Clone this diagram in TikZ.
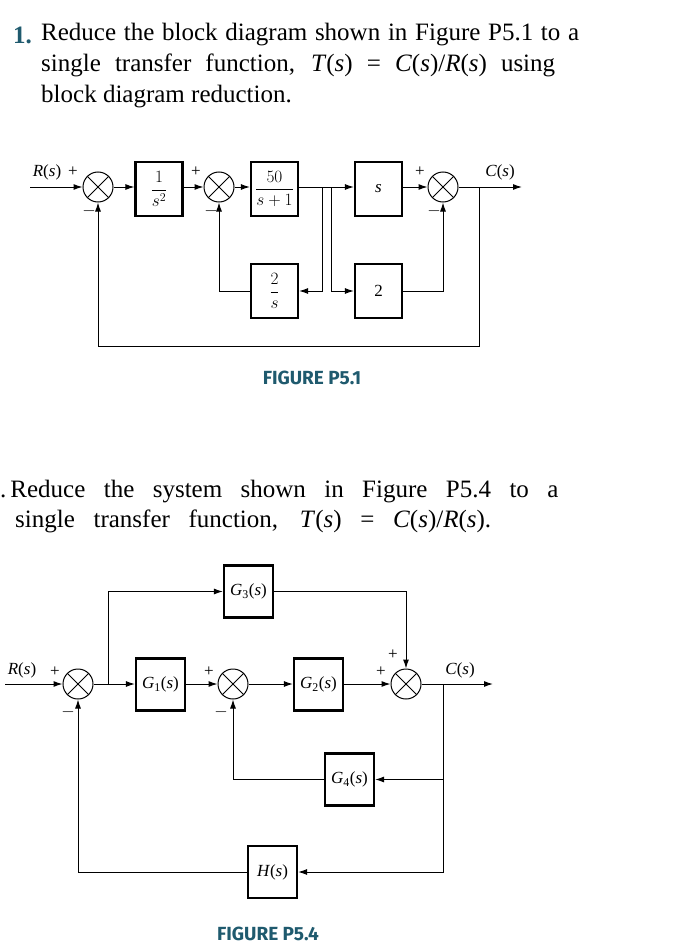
\documentclass[tikz,border=0pt]{standalone}
\usepackage{fontspec}
\setmainfont{Liberation Serif}
\newfontfamily\capfont{Fira Sans}
\usetikzlibrary{arrows.meta}
\definecolor{teal1}{HTML}{1F5A6E}
\newcommand{\mi}[1]{\textit{#1}}
\begin{document}
\begin{tikzpicture}[x=1pt,y=-1pt,
  sumj/.style={circle,draw,line width=1pt,minimum size=30pt,inner sep=0pt,
    path picture={\draw[line width=0.9pt] (path picture bounding box.north west)--(path picture bounding box.south east)
      (path picture bounding box.north east)--(path picture bounding box.south west);}},
  blk/.style={draw,line width=2.2pt,minimum width=47pt,minimum height=54pt,inner sep=0pt,font=\fontsize{17}{18}\selectfont},
  blkb/.style={draw,line width=2.2pt,minimum width=49pt,minimum height=52pt,inner sep=0pt,font=\fontsize{17}{18}\selectfont},
  arr/.style={line width=1pt,-{Latex[length=9pt,width=6pt]}},
  ln/.style={line width=1pt},
  lab/.style={font=\fontsize{17}{18}\selectfont,inner sep=0pt},
  txt/.style={font=\fontsize{25}{28}\selectfont,anchor=west,inner sep=0pt},
  figcap/.style={font=\capfont\bfseries\fontsize{19}{20}\selectfont,text=teal1,inner sep=0pt}]
\useasboundingbox[fill=white] (0,0) rectangle (676,952);
% ---- text 1
\node[txt,text=teal1,font=\bfseries\fontsize{25}{28}\selectfont] (n1) at (13,35) {1.};
\node[txt] (l1) at (41,35) {\makebox[538pt][s]{Reduce the block diagram shown in Figure P5.1 to a}};
\node[txt] (l2) at (41,65) {\makebox[514pt][s]{single transfer function, \mi{T}(\mi{s}) = \mi{C}(\mi{s})/\mi{R}(\mi{s}) using}};
\node[txt] (l3) at (41,97) {block diagram reduction.};
% ---- figure P5.1
\node[sumj] (s1) at (98,187) {};
\node[blk] (b1) at (159,189) {$\displaystyle\frac{1}{s^2}$};
\node[sumj] (s2) at (219,187) {};
\node[blk] (b2) at (274.5,189) {$\displaystyle\frac{50}{s+1}$};
\node[blk] (bs) at (378.5,189) {\mi{s}};
\node[sumj] (s3) at (443,187) {};
\node[blk] (bf) at (274.5,291) {$\displaystyle\frac{2}{s}$};
\node[blk] (bt) at (378.5,291) {2};
\coordinate (rin) at (30,187);
\coordinate (cout) at (522,187);
\coordinate (p1) at (322,187);
\coordinate (p2) at (331,187);
\coordinate (p3) at (479,187);
\draw[arr] (rin) -- (s1.west);
\draw[arr] (s1.east) -- (b1.west |- s1.east);
\draw[arr] (b1.east |- s2.west) -- (s2.west);
\draw[arr] (s2.east) -- (b2.west |- s2.east);
\draw[ln] (b2.east |- p2) -- (p2);
\draw[arr] (p2) -- (bs.west |- p2);
\draw[arr] (p1) |- (bf.east);
\draw[arr] (p2) |- (bt.west);
\draw[arr] (bs.east |- s3.west) -- (s3.west);
\draw[arr] (bt.east) -| (s3.south);
\draw[arr] (bf.west) -| (s2.south);
\draw[arr] (s3.east) -- (cout);
\draw[arr] (p3) -- ++(0,159) -| (s1.south);
\node[lab] (lr1) at (47,172) {\mi{R}(\mi{s})};
\node[lab] (pa1) at (73,172) {+};
\node[lab] (ma1) at (89,211) {$-$};
\node[lab] (pa2) at (196,172) {+};
\node[lab] (ma2) at (211,211) {$-$};
\node[lab] (pa3) at (420,172) {+};
\node[lab] (ma3) at (434,211) {$-$};
\node[lab] (lc1) at (500,172) {\mi{C}(\mi{s})};
\node[figcap] (c1) at (312,378) {FIGURE P5.1};
% ---- text 2
\node[txt] (m1) at (0,492) {.\hspace{4pt}\makebox[548pt][s]{Reduce the system shown in Figure P5.4 to a}};
\node[txt] (m2) at (15,521) {\makebox[476pt][s]{single transfer function, \mi{T}(\mi{s}) = \mi{C}(\mi{s})/\mi{R}(\mi{s}).}};
% ---- figure P5.4
\node[sumj] (t1) at (78,684) {};
\node[blkb] (g1) at (160.5,684.5) {\mi{G}\textsubscript{1}(\mi{s})};
\node[sumj] (t2) at (233,684) {};
\node[blkb] (g2) at (318.5,684.5) {\mi{G}\textsubscript{2}(\mi{s})};
\node[sumj] (t3) at (406,684) {};
\node[blkb] (g3) at (248.5,591.5) {\mi{G}\textsubscript{3}(\mi{s})};
\node[blkb] (g4) at (349.5,779.5) {\mi{G}\textsubscript{4}(\mi{s})};
\node[blkb] (gh) at (272.5,872) {\mi{H}(\mi{s})};
\coordinate (rin2) at (5,684);
\coordinate (cout2) at (493,684);
\coordinate (q1) at (108,684);
\coordinate (q2) at (443,684);
\draw[arr] (rin2) -- (t1.west);
\draw[arr] (t1.east) -- (g1.west |- t1.east);
\draw[arr] (q1) |- (g3.west);
\draw[arr] (g3.east) -| (t3.north);
\draw[arr] (g1.east |- t2.west) -- (t2.west);
\draw[arr] (t2.east) -- (g2.west |- t2.east);
\draw[arr] (g2.east |- t3.west) -- (t3.west);
\draw[arr] (t3.east) -- (cout2);
\draw[arr] (q2) |- (g4.east);
\draw[arr] (q2) |- (gh.east);
\draw[arr] (g4.west) -| (t2.south);
\draw[arr] (gh.west) -| (t1.south);
\node[lab] (lr2) at (22,670) {\mi{R}(\mi{s})};
\node[lab] (pb1) at (55,672) {+};
\node[lab] (mb1) at (68,712) {$-$};
\node[lab] (pb2) at (209,672) {+};
\node[lab] (mb2) at (221,712) {$-$};
\node[lab] (pb3) at (381,672) {+};
\node[lab] (pb4) at (393,655) {+};
\node[lab] (lc2) at (460,670) {\mi{C}(\mi{s})};
\node[figcap] (c2) at (268,934) {FIGURE P5.4};
\end{tikzpicture}
\end{document}
